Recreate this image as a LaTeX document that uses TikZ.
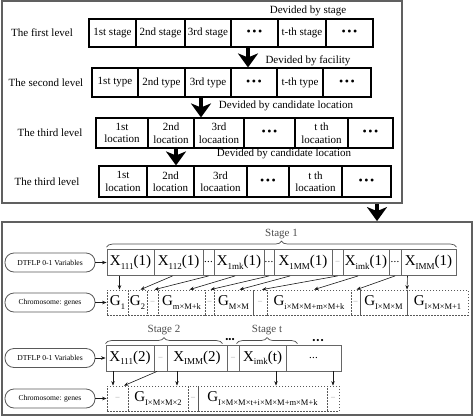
\documentclass[tikz,border=0pt]{standalone}
\usepackage{fontspec}
\setmainfont{Liberation Serif}
\usetikzlibrary{arrows.meta,positioning,decorations.pathreplacing}

\newcommand\xvar[2]{X\raisebox{-0.5ex}{\fontsize{9}{9}\selectfont #1}(#2)}
\newcommand\gene[1]{G\raisebox{-0.55ex}{\fontsize{8.5}{8.5}\selectfont #1}}
\newcommand\bdots{{\fontsize{12}{12}\selectfont\textbullet\hspace{1.5pt}\textbullet\hspace{1.5pt}\textbullet}}
\newcommand\threedots{{\fontsize{11}{11}\selectfont .\kern0.3pt.\kern0.3pt.}}
\newcommand\emptymark{\textcolor{gray!80}{\fontsize{8}{8}\selectfont --}}

\begin{document}
\begin{tikzpicture}[x=1pt,y=-1pt,
  panel/.style={draw=gray!75!black, line width=1.8pt, inner sep=0pt},
  cell/.style={draw, line width=1.1pt, inner sep=0pt, align=center, font=\fontsize{11}{12.5}\selectfont},
  xcell/.style={draw=gray!80!black, line width=0.9pt, inner sep=0pt, minimum height=26, font=\fontsize{15}{15}\selectfont},
  gcell/.style={draw=gray!70!black, line width=0.8pt, dash pattern=on 1.5pt off 1.5pt, inner sep=0pt, minimum height=25, font=\fontsize{15}{15}\selectfont},
  caption/.style={inner sep=0pt, font=\fontsize{11}{12}\selectfont},
  tag/.style={draw=gray!70!black, line width=0.8pt, rounded corners=9pt, minimum width=90, minimum height=19, inner sep=0pt, font=\fontsize{7.6}{8}\selectfont},
  bigarrow/.style={line width=4pt, -{Stealth[length=14pt,width=20pt,inset=4pt]}},
  link/.style={gray!20!black, line width=0.6pt, -{Stealth[length=4.5pt,width=3.5pt]}},
  stagebrace/.style={gray!60!black, line width=0.7pt, decorate, decoration={brace, amplitude=6pt}}]

  \useasboundingbox (0,0) rectangle (474,418);

  % panels
  \node[panel, minimum width=400, minimum height=202] (top) at (202,102) {};
  \node[panel, minimum width=470, minimum height=193] (bottom) at (237,318.5) {};

  % first level
  \node[caption] (lev1) at (42,33) {The first level};
  \node[caption] (cap1) at (308,11) {Devided by stage};
  \foreach \n/\xa/\xb/\txt in {1/89/136/1st stage,2/136/185/2nd stage,3/185/231/3rd stage,
      4/231/278/\bdots,5/278/326/t-th stage,6/326/373/\bdots}
    \node[cell, minimum width=\xb-\xa, minimum height=28] (r1c\n) at ({(\xa+\xb)/2},33) {\txt};

  % second level
  \node[caption] (lev2) at (46,82.5) {The second level};
  \node[caption] (cap2) at (308,61) {Devided by facility};
  \foreach \n/\xa/\xb/\txt in {1/92/138/1st type,2/138/185/2nd type,3/185/231/3rd type,
      4/231/277/\bdots,5/277/323/t-th type,6/323/371/\bdots}
    \node[cell, minimum width=\xb-\xa, minimum height=29] (r2c\n) at ({(\xa+\xb)/2},82.5) {\txt};
  \draw[bigarrow] ([xshift=-6.5]r1c4.south) -- ([xshift=-6]r2c4.north);

  % third level
  \node[caption] (lev3) at (50,133) {The third level};
  \node[caption] (cap3) at (286,106) {Devided by candidate location};
  \foreach \n/\xa/\xb/\txt in {1/96/148/1st\\location,2/148/194/2nd\\location,3/194/244/3rd\\locaation,
      4/244/295/\bdots,5/295/348/t th\\locaation,6/348/393/\bdots}
    \node[cell, minimum width=\xb-\xa, minimum height=30] (r3c\n) at ({(\xa+\xb)/2},133) {\txt};
  \draw[bigarrow] ([xshift=-7]r2c3.south) -- ([xshift=-18]r3c3.north);

  % third level again
  \node[caption] (lev4) at (47,181.5) {The third level};
  \node[caption] (cap4) at (284,154) {Devided by candidate location};
  \foreach \n/\xa/\xb/\txt in {1/99/147/1st\\location,2/147/194/2nd\\location,3/194/247/3rd\\locaation,
      4/247/289/\bdots,5/289/342/t th\\locaation,6/342/391/\bdots}
    \node[cell, minimum width=\xb-\xa, minimum height=31] (r4c\n) at ({(\xa+\xb)/2},181.5) {\txt};
  \draw[bigarrow] ([xshift=5]r3c2.south) -- ([xshift=5.5]r4c2.north);

  \draw[bigarrow] ([xshift=175]top.south) -- ([xshift=140]bottom.north);

  % stage 1
  \node[tag] (var1) at (50,262.5) {DTFLP 0-1 Variables};
  \foreach \n/\xa/\xb/\txt in {1/107/154/\xvar{111}{1},2/154/203/\xvar{112}{1},3/203/214/\threedots,
      4/214/264/\xvar{1mk}{1},5/264/274/\threedots,6/274/332/\xvar{1MM}{1},7/332/343/\emptymark,
      8/343/389/\xvar{imk}{1},9/389/401/\threedots,10/401/456/\xvar{IMM}{1}}
    \node[xcell, minimum width=\xb-\xa] (x1c\n) at ({(\xa+\xb)/2},262.5) {\txt};
  \node[tag] (gen1) at (50,302.5) {Chromosome: genes};
  \foreach \n/\xa/\xb/\txt in {1/107/128/\gene{1},2/128/147/\gene{2},3/147/158/\emptymark,
      4/158/205/\gene{m×M+k},5/205/214/\emptymark,6/214/253/\gene{M×M},7/253/267/\emptymark,
      8/267/351/\gene{i×M×M+m×M+k},9/351/360/\emptymark,10/360/407/\gene{I×M×M},11/407/468/\gene{I×M×M+1}}
    \node[gcell, minimum width=\xb-\xa] (g1c\n) at ({(\xa+\xb)/2},302.5) {\txt};
  \draw[link] (var1.east) -- (x1c1.west);
  \draw[link] (gen1.east) -- (g1c1.west);
  \draw[stagebrace] ([yshift=2]x1c1.north west) -- ([yshift=2]x1c10.north east)
    node[midway, above=8pt, caption] (st1) {Stage 1};

  \draw[link] ([xshift=-11]x1c1.south) -- ([xshift=2]g1c1.north);
  \draw[link] ([xshift=-6]x1c2.south) -- ([xshift=3]g1c2.north);
  \draw[link] (x1c3.south) -- ([xshift=2]g1c3.north);
  \draw[link] ([xshift=-4]x1c4.south) -- ([xshift=8]g1c4.north);
  \draw[link] (x1c5.south) -- ([xshift=1]g1c5.north);
  \draw[link] ([xshift=-13]x1c6.south) -- ([xshift=6]g1c6.north);
  \draw[link] (x1c7.south) -- ([xshift=2]g1c7.north);
  \draw[link] ([xshift=-8]x1c8.south) -- ([xshift=5]g1c8.north);
  \draw[link] (x1c9.south) -- ([xshift=1]g1c9.north);
  \draw[link] ([xshift=-21]x1c10.south) -- ([xshift=-30.5]g1c11.north);

  % stage 2 and stage t
  \node[tag] (var2) at (50,358) {DTFLP 0-1 Variables};
  \foreach \n/\xa/\xb/\txt in {1/106/154/\xvar{111}{2},2/154/167/\emptymark,3/167/227/\xvar{IMM}{2},
      4/227/239/\emptymark,5/239/286/\xvar{imk}{t},6/286/341/\threedots}
    \node[xcell, minimum width=\xb-\xa] (x2c\n) at ({(\xa+\xb)/2},358) {\txt};
  \node[tag] (gen2) at (50,398.5) {Chromosome: genes};
  \foreach \n/\xa/\xb/\txt in {1/107/128/\emptymark,2/128/188/\gene{I×M×M×2},3/188/198/\emptymark,
      4/198/327/\gene{I×M×M×t+i×M×M+m×M+k},5/327/339/\emptymark}
    \node[gcell, minimum width=\xb-\xa] (g2c\n) at ({(\xa+\xb)/2},398.5) {\txt};
  \draw[link] (var2.east) -- (x2c1.west);
  \draw[link] (gen2.east) -- (g2c1.west);
  \draw[stagebrace] ([yshift=1]x2c1.north west) -- ([xshift=-5,yshift=1]x2c3.north east)
    node[midway, above=8pt, caption] (st2) {Stage 2};
  \draw[stagebrace] ([xshift=-2,yshift=1]x2c5.north west) -- ([xshift=12,yshift=1]x2c6.north west)
    node[midway, above=8pt, caption] (stt) {Stage t};
  \node[inner sep=0pt, font=\fontsize{9}{9}\selectfont] (dots1) at (230,340) {\textbullet\textbullet\textbullet};
  \node[inner sep=0pt, font=\fontsize{9}{9}\selectfont] (dots2) at (318,341) {\textbullet\hspace{1pt}\textbullet\hspace{1pt}\textbullet};

  \draw[link] ([xshift=-17]x2c1.south) -- ([xshift=-4.5]g2c1.north);
  \draw[link] ([xshift=-3.5]x2c2.south) -- ([xshift=6.5]g2c1.north);
  \draw[link] ([xshift=-20]x2c3.south) -- ([xshift=19]g2c2.north);
  \draw[link] ([xshift=13.5]x2c5.south) -- ([xshift=13.5]g2c4.north);
  \draw[link] ([xshift=19.5]x2c6.south) -- (g2c5.north);
\end{tikzpicture}
\end{document}
